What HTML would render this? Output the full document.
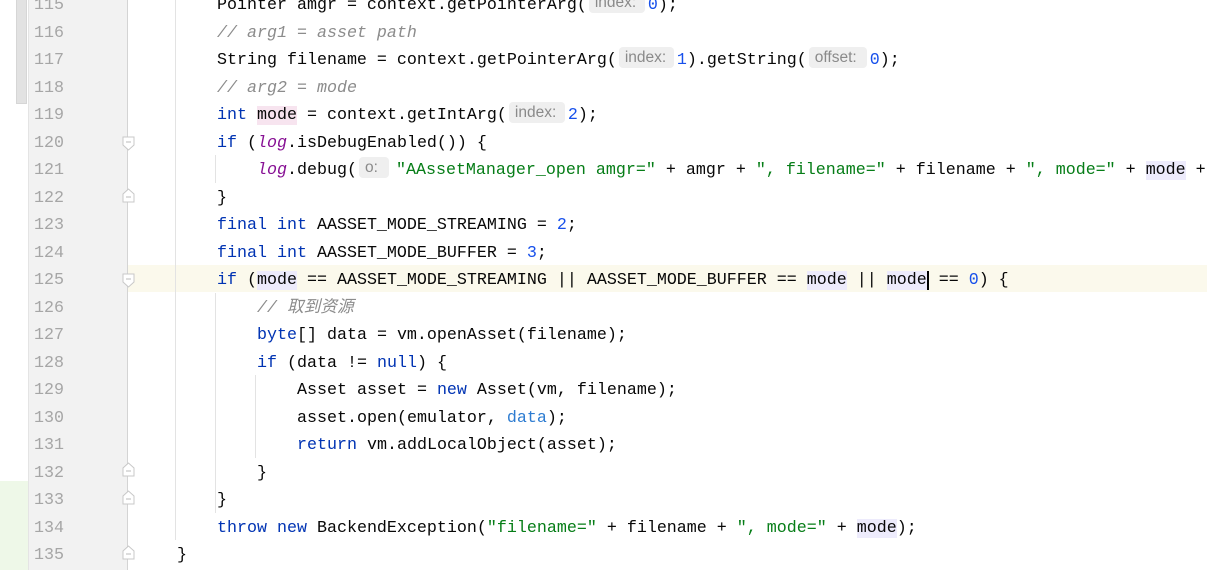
<!DOCTYPE html>
<html><head><meta charset="utf-8"><style>
body{margin:0;width:1207px;height:570px;overflow:hidden;background:#fff;position:relative;font-family:"Liberation Mono","Noto Sans CJK SC",monospace;}
#gut{position:absolute;left:28px;top:0;width:100px;height:570px;background:#f2f2f2;border-left:1px solid #e4e4e4;border-right:1px solid #d4d4d4;box-sizing:border-box}
#green{position:absolute;left:0;top:481px;width:28px;height:89px;background:#eef8e8}
#sb{position:absolute;left:16px;top:0;width:11px;height:104px;background:#e2e2e2;border:1px solid #d6d6d6;border-top:none;box-sizing:border-box}
#cur{position:absolute;left:128px;top:265px;width:1079px;height:27px;background:#fbf9ec}
.g{position:absolute;width:1px;background:#e3e3e3}
#w{position:absolute;left:0;top:2px;width:1207px;height:570px}
.ln{position:absolute;left:34px;width:30px;font-size:16.67px;color:#a6a6a6;height:27.5px;line-height:27.5px}
.l{position:absolute;white-space:pre;font-size:16.67px;height:27.5px;line-height:27.5px;color:#080808}
.k{color:#0033b3}.c{color:#8c8c8c;font-style:italic}.s{color:#067d17}.n{color:#1750eb}.f{color:#871094;font-style:italic}
.u{background:#edebfc}.d{background:#f7e4ef}.p{color:#2d7cd1}
.h{display:inline-block;box-sizing:border-box;font-family:"Liberation Sans",sans-serif;font-size:15.5px;color:#8a8a8a;background:#efefef;border-radius:4px;height:21px;line-height:21px;vertical-align:2px;padding-left:6px;margin:0 3px 0 2px}
.fm{position:absolute;left:122px}
</style></head><body>
<div id="green"></div>
<div id="gut"></div>
<div id="sb"></div>
<div id="cur"></div>
<div class="g" style="left:175px;top:0;height:540px"></div>
<div class="g" style="left:215px;top:155px;height:28px"></div>
<div class="g" style="left:215px;top:293px;height:220px"></div>
<div class="g" style="left:255px;top:375px;height:83px"></div>

<svg class="fm" style="top:136px" width="13" height="15"><path d="M1 1H12V9L6.5 14L1 9Z" fill="#fff" stroke="#c8c8c8"/><path d="M4 6H9" stroke="#bbb"/></svg>
<svg class="fm" style="top:188px" width="13" height="15"><path d="M1 14H12V6L6.5 1L1 6Z" fill="#fff" stroke="#c8c8c8"/><path d="M4 9H9" stroke="#bbb"/></svg>
<svg class="fm" style="top:273px" width="13" height="15"><path d="M1 1H12V9L6.5 14L1 9Z" fill="#fff" stroke="#c8c8c8"/><path d="M4 6H9" stroke="#bbb"/></svg>
<svg class="fm" style="top:462px" width="13" height="15"><path d="M1 14H12V6L6.5 1L1 6Z" fill="#fff" stroke="#c8c8c8"/><path d="M4 9H9" stroke="#bbb"/></svg>
<svg class="fm" style="top:490px" width="13" height="15"><path d="M1 14H12V6L6.5 1L1 6Z" fill="#fff" stroke="#c8c8c8"/><path d="M4 9H9" stroke="#bbb"/></svg>
<svg class="fm" style="top:545px" width="13" height="15"><path d="M1 14H12V6L6.5 1L1 6Z" fill="#fff" stroke="#c8c8c8"/><path d="M4 9H9" stroke="#bbb"/></svg>

<div id="w">
<div class="ln" style="top:-10px">115</div>
<div class="ln" style="top:17.5px">116</div>
<div class="ln" style="top:45px">117</div>
<div class="ln" style="top:72.5px">118</div>
<div class="ln" style="top:100px">119</div>
<div class="ln" style="top:127.5px">120</div>
<div class="ln" style="top:155px">121</div>
<div class="ln" style="top:182.5px">122</div>
<div class="ln" style="top:210px">123</div>
<div class="ln" style="top:237.5px">124</div>
<div class="ln" style="top:265px">125</div>
<div class="ln" style="top:292.5px">126</div>
<div class="ln" style="top:320px">127</div>
<div class="ln" style="top:347.5px">128</div>
<div class="ln" style="top:375px">129</div>
<div class="ln" style="top:402.5px">130</div>
<div class="ln" style="top:430px">131</div>
<div class="ln" style="top:457.5px">132</div>
<div class="ln" style="top:485px">133</div>
<div class="ln" style="top:512.5px">134</div>
<div class="ln" style="top:540px">135</div>

<div class="l" style="left:217px;top:-10px">Pointer amgr = context.getPointerArg(<span class="h" style="width:56px">index:</span><span class="n">0</span>);</div>
<div class="l" style="left:217px;top:17.5px"><span class="c">// arg1 = asset path</span></div>
<div class="l" style="left:217px;top:45px">String filename = context.getPointerArg(<span class="h" style="width:55px">index:</span><span class="n">1</span>).getString(<span class="h" style="width:58px">offset:</span><span class="n">0</span>);</div>
<div class="l" style="left:217px;top:72.5px"><span class="c">// arg2 = mode</span></div>
<div class="l" style="left:217px;top:100px"><span class="k">int</span> <span class="d">mode</span> = context.getIntArg(<span class="h" style="width:56px">index:</span><span class="n">2</span>);</div>
<div class="l" style="left:217px;top:127.5px"><span class="k">if</span> (<span class="f">log</span>.isDebugEnabled()) {</div>
<div class="l" style="left:257px;top:155px"><span class="f">log</span>.debug(<span class="h" style="width:30px;margin-right:7px">o:</span><span class="s">"AAssetManager_open amgr="</span> + amgr + <span class="s">", filename="</span> + filename + <span class="s">", mode="</span> + <span class="u">mode</span> +</div>
<div class="l" style="left:217px;top:182.5px">}</div>
<div class="l" style="left:217px;top:210px"><span class="k">final int</span> AASSET_MODE_STREAMING = <span class="n">2</span>;</div>
<div class="l" style="left:217px;top:237.5px"><span class="k">final int</span> AASSET_MODE_BUFFER = <span class="n">3</span>;</div>
<div class="l" style="left:217px;top:265px"><span class="k">if</span> (<span class="u">mode</span> == AASSET_MODE_STREAMING || AASSET_MODE_BUFFER == <span class="u">mode</span> || <span class="u" style="border-right:2px solid #000">mode</span> == <span class="n">0</span>) {</div>
<div class="l" style="left:257px;top:292.5px"><span class="c">// 取到资源</span></div>
<div class="l" style="left:257px;top:320px"><span class="k">byte</span>[] data = vm.openAsset(filename);</div>
<div class="l" style="left:257px;top:347.5px"><span class="k">if</span> (data != <span class="k">null</span>) {</div>
<div class="l" style="left:297px;top:375px">Asset asset = <span class="k">new</span> Asset(vm, filename);</div>
<div class="l" style="left:297px;top:402.5px">asset.open(emulator, <span class="p">data</span>);</div>
<div class="l" style="left:297px;top:430px"><span class="k">return</span> vm.addLocalObject(asset);</div>
<div class="l" style="left:257px;top:457.5px">}</div>
<div class="l" style="left:217px;top:485px">}</div>
<div class="l" style="left:217px;top:512.5px"><span class="k">throw new</span> BackendException(<span class="s">"filename="</span> + filename + <span class="s">", mode="</span> + <span class="u">mode</span>);</div>
<div class="l" style="left:177px;top:540px">}</div>
</div>
</body></html>
